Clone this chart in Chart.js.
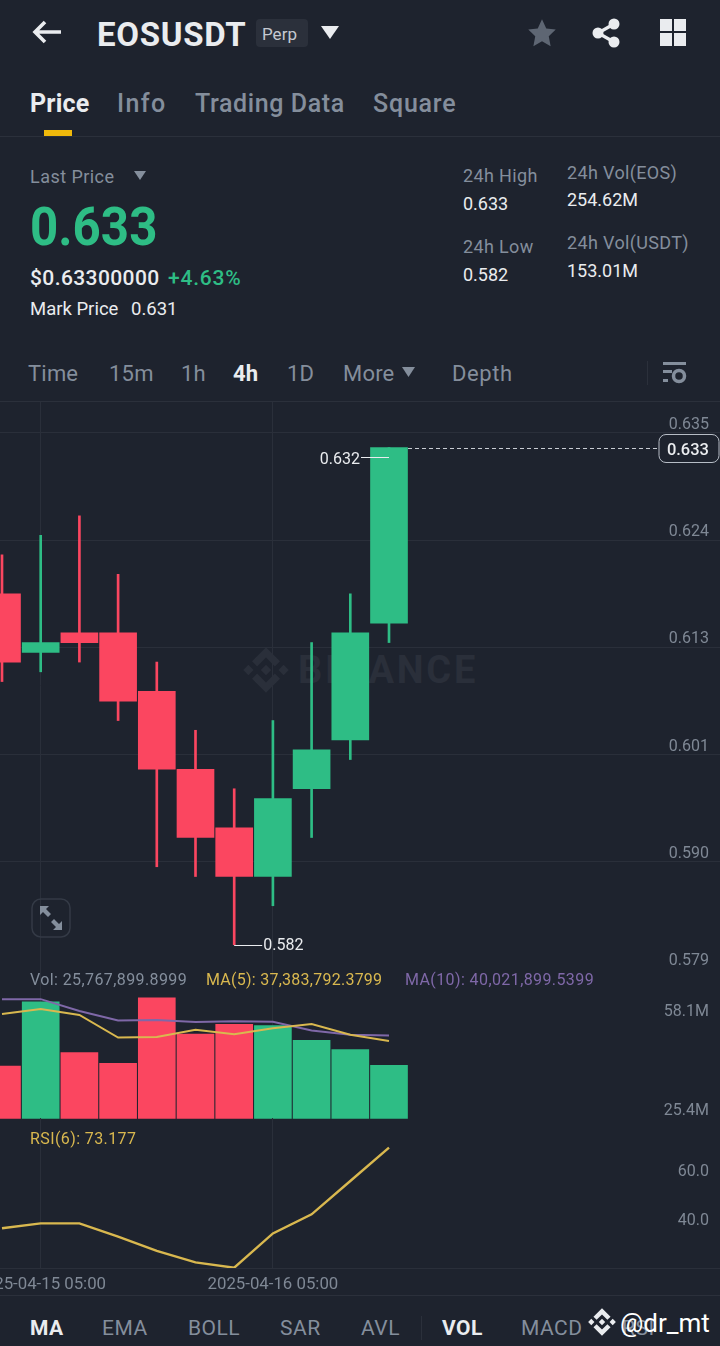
<!DOCTYPE html>
<html>
<head>
<meta charset="utf-8">
<title>EOSUSDT</title>
<script src="https://cdn.jsdelivr.net/npm/chart.js@4/dist/chart.umd.min.js"></script>
<style>
  html, body { margin: 0; padding: 0; background: #1e232e; }
  #app { position: relative; width: 720px; height: 1346px; overflow: hidden; background: #1e232e;
         font-family: Roboto, sans-serif; color: #848e9c; }
  .t { position: absolute; white-space: nowrap; transform: translateY(-50%); line-height: 1; }
  .w { color: #eaecef; }
  .b { font-weight: 700; }
  .hr { position: absolute; left: 0; width: 720px; height: 1px; background: #2b303b; }
  .tab { font-size: 25px; font-weight: 500; letter-spacing: .6px; }
  .iv { font-size: 22px; letter-spacing: .2px; }
  .ind { font-size: 21px; letter-spacing: .5px; }
  .stat { font-size: 18px; }
  .lab { font-size: 18px; letter-spacing: .35px; }
  .leg { font-size: 16px; letter-spacing: .4px; }
  canvas { position: absolute; left: 0; display: block; }
  svg { position: absolute; }
</style>
</head>
<body>
<div id="app">
  <!-- top bar -->
  <svg style="left:32px;top:20px" width="30" height="24" viewBox="0 0 30 24"><path d="M13 2 3 12l10 10M3 12h26" fill="none" stroke="#eaecef" stroke-width="3.6"/></svg>
  <span class="t w b" style="left:97px;top:34px;font-size:33px;letter-spacing:.7px">EOSUSDT</span>
  <div style="position:absolute;left:256px;top:19px;width:52px;height:28px;background:#2b303b;border-radius:4px"></div>
  <span class="t" style="left:262px;top:34px;font-size:17px;color:#c4c9d1">Perp</span>
  <svg style="left:321px;top:26px" width="18" height="13"><path d="M0 0h18L9 13z" fill="#eaecef"/></svg>
  <svg style="left:527px;top:18px" width="30" height="30" viewBox="0 0 24 24"><path d="M12 1l3.4 7.3 7.6.9-5.6 5.4 1.5 8L12 18.6 5.1 22.600l1.500-8L1 9.200l7.600-.9z" fill="#5e6673"/></svg>
  <svg style="left:592px;top:18px" width="28" height="30" viewBox="0 0 28 30"><path d="M22 6 6 15l16 9" fill="none" stroke="#eaecef" stroke-width="3.200"/><circle cx="22" cy="6" r="5.500" fill="#eaecef"/><circle cx="6" cy="15" r="5.500" fill="#eaecef"/><circle cx="22" cy="24" r="5.500" fill="#eaecef"/></svg>
  <svg style="left:660px;top:19px" width="26" height="27"><path d="M0 0h12v12H0zM14 0h12v12H14zM0 14h12v13H0zM14 14h12v13H14z" fill="#eaecef"/></svg>

  <!-- tabs -->
  <span class="t w tab" style="left:30px;top:103px;font-weight:700;letter-spacing:.2px">Price</span>
  <span class="t tab" style="left:117px;top:103px;letter-spacing:1.4px">Info</span>
  <span class="t tab" style="left:195px;top:103px">Trading Data</span>
  <span class="t tab" style="left:373px;top:103px;letter-spacing:.8px">Square</span>
  <div style="position:absolute;left:44px;top:130px;width:28px;height:6px;background:#f0b90b"></div>
  <div class="hr" style="top:136px"></div>

  <!-- ticker -->
  <span class="t lab" style="left:30px;top:177px;letter-spacing:.45px">Last Price</span>
  <svg style="left:134px;top:171px" width="12" height="9"><path d="M0 0h12L6 9z" fill="#848e9c"/></svg>
  <span class="t b" style="left:30px;top:227px;font-size:53px;color:#2ebd85;transform:translateY(-50%) scaleX(.93);transform-origin:left center">0.633</span>
  <span class="t w" style="left:30px;top:278px;font-size:21px;font-weight:500;letter-spacing:.4px">$0.63300000</span>
  <span class="t" style="left:168px;top:278px;font-size:21px;font-weight:500;color:#2ebd85;letter-spacing:.8px">+4.63%</span>
  <span class="t w" style="left:30px;top:309px;font-size:18.5px">Mark Price</span>
  <span class="t w" style="left:131px;top:309px;font-size:18.5px">0.631</span>

  <span class="t lab" style="left:463px;top:176px">24h High</span>
  <span class="t w stat" style="left:463px;top:204px">0.633</span>
  <span class="t lab" style="left:463px;top:247px">24h Low</span>
  <span class="t w stat" style="left:463px;top:275px">0.582</span>
  <span class="t lab" style="left:567px;top:173px">24h Vol(EOS)</span>
  <span class="t w stat" style="left:567px;top:200px">254.62M</span>
  <span class="t lab" style="left:567px;top:243px">24h Vol(USDT)</span>
  <span class="t w stat" style="left:567px;top:271px">153.01M</span>

  <!-- intervals -->
  <span class="t iv" style="left:28px;top:374px">Time</span>
  <span class="t iv" style="left:109px;top:374px">15m</span>
  <span class="t iv" style="left:181px;top:374px">1h</span>
  <span class="t iv w b" style="left:233px;top:374px">4h</span>
  <span class="t iv" style="left:287px;top:374px">1D</span>
  <span class="t iv" style="left:343px;top:374px">More</span>
  <svg style="left:402px;top:367px" width="13" height="10"><path d="M0 0h13L6.500 10z" fill="#848e9c"/></svg>
  <span class="t iv" style="left:452px;top:374px;letter-spacing:.6px">Depth</span>
  <div style="position:absolute;left:647px;top:361px;width:1px;height:24px;background:#2b303b"></div>
  <svg style="left:663px;top:361px" width="24" height="24"><path d="M0 1h23v3H0zM0 9h9v3H0zM0 18h5v3H0z" fill="#848e9c"/><circle cx="16" cy="15" r="5.500" fill="none" stroke="#848e9c" stroke-width="3.500"/></svg>
  <div class="hr" style="top:401px"></div>

  <!-- watermark sits under the candles -->
  <svg style="left:243px;top:647px" width="46" height="46" viewBox="0 0 126 126"><path fill="#2a2f3a" d="M38.730 53.200 63 28.930l24.280 24.280 14.120-14.120L63 .68 24.610 39.070zM.68 63l14.120-14.120L28.930 63 14.800 77.120zM38.730 72.800 63 97.070l24.280-24.280 14.130 14.100L63 125.320 24.610 86.930zM97.070 63l14.120-14.120L125.320 63l-14.120 14.120zM77.330 63 63 48.650 48.660 63 63 77.350z"/></svg>
  <span class="t b" style="left:298px;top:670px;font-size:38px;color:#2a2f3a;letter-spacing:2.700px">BINANCE</span>

  <canvas id="priceChart" width="720" height="567" style="top:402px"></canvas>
  <canvas id="volChart" width="720" height="151" style="top:968px"></canvas>
  <canvas id="rsiChart" width="720" height="178" style="top:1118px"></canvas>

  <span class="t leg" style="left:30px;top:980px">Vol: 25,767,899.8999</span>
  <span class="t leg" style="left:206px;top:980px;color:#d9b84f;letter-spacing:.25px">MA(5): 37,383,792.3799</span>
  <span class="t leg" style="left:405px;top:980px;color:#7f68a8">MA(10): 40,021,899.5399</span>
  <span class="t leg" style="left:30px;top:1139px;color:#d9b84f">RSI(6): 73.177</span>

  <svg style="left:31px;top:898px" width="40" height="40"><rect x="1" y="1" width="38" height="38" rx="9" fill="none" stroke="#343a46" stroke-width="1.500"/><path d="M9 8h9l-3 3 5 5-3 3-5-5-3 3zM31 32h-9l3-3-5-5 3-3 5 5 3-3z" fill="#848e9c"/></svg>

  <!-- bottom bar -->
  <div class="hr" style="top:1295px"></div>
  <span class="t ind w b" style="left:30px;top:1328px">MA</span>
  <span class="t ind" style="left:102px;top:1328px">EMA</span>
  <span class="t ind" style="left:188px;top:1328px">BOLL</span>
  <span class="t ind" style="left:280px;top:1328px">SAR</span>
  <span class="t ind" style="left:361px;top:1328px">AVL</span>
  <div style="position:absolute;left:421px;top:1316px;width:1px;height:24px;background:#2b303b"></div>
  <span class="t ind w b" style="left:442px;top:1328px">VOL</span>
  <span class="t ind" style="left:521px;top:1328px">MACD</span>
  <span class="t ind" style="left:622px;top:1328px">RSI</span>
  <svg style="left:588px;top:1307px" width="28" height="30" viewBox="0 0 126 126"><path fill="#eaecef" d="M38.730 53.200 63 28.930l24.280 24.280 14.120-14.120L63 .68 24.610 39.070zM.68 63l14.120-14.120L28.930 63 14.800 77.120zM38.730 72.800 63 97.070l24.280-24.280 14.130 14.100L63 125.320 24.610 86.930zM97.070 63l14.120-14.120L125.320 63l-14.120 14.120zM77.330 63 63 48.650 48.660 63 63 77.350z"/></svg>
  <span class="t" style="left:620px;top:1323px;font-size:26px;color:#fff">@dr_mt</span>
</div>

<script>
// 4h candles, index 0 is the one cut off by the left edge
const times = ["2025-04-15 01:00", "2025-04-15 05:00", "2025-04-15 09:00", "2025-04-15 13:00",
    "2025-04-15 17:00", "2025-04-15 21:00", "2025-04-16 01:00", "2025-04-16 05:00",
    "2025-04-16 09:00", "2025-04-16 13:00", "2025-04-16 17:00"];
const opens  = [0.618, 0.612, 0.614, 0.614, 0.608, 0.600, 0.594, 0.589, 0.598, 0.603, 0.615];
const closes = [0.611, 0.613, 0.613, 0.607, 0.600, 0.593, 0.589, 0.597, 0.602, 0.614, 0.633];
const highs  = [0.622, 0.624, 0.626, 0.620, 0.611, 0.604, 0.598, 0.605, 0.613, 0.618, 0.633];
const lows   = [0.609, 0.610, 0.611, 0.605, 0.590, 0.589, 0.582, 0.586, 0.593, 0.601, 0.613];

const volumes = [25.4, 56.2, 31.9, 26.7, 58.1, 40.7, 45.4, 44.8, 37.7, 33.3, 25.77];
const ma5     = [50.4, 52.8, 49.9, 39.1, 39.4, 42.8, 40.7, 43.5, 45.6, 40.4, 37.38];
const ma10    = [57.5, 57.5, 51.8, 47.3, 47.5, 46.5, 46.9, 46.7, 42.5, 40.4, 40.02];
const rsi6    = [40.3, 42.3, 42.3, 36.9, 31.1, 26.4, 24.2, 38.2, 46.0, 59.6, 73.177];

const priceTicks = [0.6345, 0.6235, 0.6125, 0.6015, 0.5905, 0.5795];
const priceTickLabels = ["0.635", "0.624", "0.613", "0.601", "0.590", "0.579"];
const volTicks = [47.3, 0];
const volTickLabels = ["58.1M", "25.4M"];
const rsiTicks = [60, 40, 24.08];
const rsiTickLabels = ["60.0", "40.0", ""];
const dateTickIndexes = [1, 7];

const GREEN = "#2ebd85";
const RED = "#fb4660";
const GRID = "#2a2f3a";
const TICK = "#7f8895";
const CANDLE_STEP = 38.7;
const FIRST_CANDLE_X = 2;

const indexes = times.map((t, i) => i);
const candleColors = indexes.map(i => closes[i] >= opens[i] ? GREEN : RED);

// Same horizontal scale on all three panels, area fills the canvas
function xAxis(showLabels) {
    return {
        type: "linear",
        offset: false,
        min: -FIRST_CANDLE_X / CANDLE_STEP,
        max: (720 - FIRST_CANDLE_X) / CANDLE_STEP,
        afterBuildTicks: scale => { scale.ticks = dateTickIndexes.map(v => ({ value: v })); },
        afterFit: scale => {
            scale.paddingLeft = scale.paddingRight = 0;
            scale.height = showLabels ? 28 : 0;
        },
        border: { display: false },
        grid: { color: GRID, drawTicks: false, offset: false },
        ticks: {
            display: showLabels,
            autoSkip: false,
            maxRotation: 0,
            padding: 7,
            color: TICK,
            font: { family: "Roboto", size: 16.8 },
            callback: value => times[value],
        },
    };
}

function yAxis(min, max, ticks, labels, gridColor) {
    return {
        position: "right",
        min: min,
        max: max,
        beginAtZero: false,
        afterBuildTicks: scale => { scale.ticks = ticks.map(v => ({ value: v })); },
        afterFit: scale => {
            scale.paddingTop = scale.paddingBottom = 0;
            scale.width = 0;
        },
        border: { display: false },
        grid: { color: gridColor, drawTicks: false },
        ticks: {
            mirror: true,
            autoSkip: false,
            padding: -11,
            labelOffset: -8,
            color: TICK,
            font: { family: "Roboto", size: 16 },
            callback: (value, i) => labels[i],
        },
    };
}

const baseOptions = {
    responsive: false,
    animation: false,
    layout: { padding: 0 },
    plugins: { legend: { display: false }, tooltip: { enabled: false } },
};

// High / low callouts and the last price line
const priceMarks = {
    id: "priceMarks",
    afterDatasetsDraw(chart) {
        const { ctx, scales: { x, y } } = chart;
        const last = indexes.length - 1;
        const lastY = Math.round(y.getPixelForValue(closes[last])) + 0.5;
        const boxLeft = 659;

        ctx.save();
        ctx.textBaseline = "middle";
        ctx.lineWidth = 1;

        ctx.strokeStyle = "#c8ccd3";
        ctx.setLineDash([4, 3]);
        ctx.beginPath();
        ctx.moveTo(x.getPixelForValue(last) + 19, lastY);
        ctx.lineTo(boxLeft, lastY);
        ctx.stroke();
        ctx.setLineDash([]);

        ctx.fillStyle = "#1e232e";
        ctx.strokeStyle = "#b7bdc6";
        ctx.beginPath();
        ctx.roundRect(boxLeft, lastY - 14, 60, 28, 7);
        ctx.fill();
        ctx.stroke();
        ctx.font = "500 16.5px Roboto";
        ctx.fillStyle = "#eaecef";
        ctx.textAlign = "right";
        ctx.fillText(closes[last].toFixed(3), 709, lastY + 2);

        // 0.632 points left from the last candle
        ctx.font = "16px Roboto";
        const hiY = Math.round(y.getPixelForValue(0.632)) + 0.5;
        const hiX = x.getPixelForValue(last);
        ctx.strokeStyle = "#eaecef";
        ctx.beginPath();
        ctx.moveTo(hiX - 28, hiY);
        ctx.lineTo(hiX, hiY);
        ctx.stroke();
        ctx.fillText("0.632", hiX - 29, hiY + 2);

        // lowest low points right
        const lowValue = Math.min(...lows);
        const lowIndex = lows.indexOf(lowValue);
        const loY = Math.round(y.getPixelForValue(lowValue)) + 0.5;
        const loX = x.getPixelForValue(lowIndex);
        ctx.beginPath();
        ctx.moveTo(loX, loY);
        ctx.lineTo(loX + 28, loY);
        ctx.stroke();
        ctx.textAlign = "left";
        ctx.fillText(lowValue.toFixed(3), loX + 29, loY);
        ctx.restore();
    },
};

new Chart("priceChart", {
    type: "bar",
    data: {
        datasets: [
            {
                label: "Wick",
                data: indexes.map(i => ({ x: i, y: [lows[i], highs[i]] })),
                backgroundColor: candleColors,
                barThickness: 2,
                grouped: false,
                order: 2,
            },
            {
                label: "Body",
                data: indexes.map(i => ({ x: i, y: [opens[i], closes[i]] })),
                backgroundColor: candleColors,
                barThickness: 37,
                grouped: false,
                order: 1,
            },
        ],
    },
    options: {
        ...baseOptions,
        scales: {
            x: xAxis(false),
            y: yAxis(0.57951, 0.63768, priceTicks, priceTickLabels, GRID),
        },
    },
    plugins: [priceMarks],
});

new Chart("volChart", {
    type: "bar",
    data: {
        datasets: [
            {
                label: "Vol",
                data: indexes.map(i => ({ x: i, y: volumes[i] })),
                backgroundColor: candleColors,
                barThickness: 37,
                order: 3,
            },
            {
                type: "line",
                label: "MA(10)",
                data: indexes.map(i => ({ x: i, y: ma10[i] })),
                borderColor: "#7f68a8",
                borderWidth: 2,
                pointRadius: 0,
                order: 2,
            },
            {
                type: "line",
                label: "MA(5)",
                data: indexes.map(i => ({ x: i, y: ma5[i] })),
                borderColor: "#d9b84f",
                borderWidth: 2,
                pointRadius: 0,
                order: 1,
            },
        ],
    },
    options: {
        ...baseOptions,
        scales: {
            x: xAxis(false),
            y: yAxis(0, 72.45, volTicks, volTickLabels, c => c.tick.value === 0 ? GRID : "transparent"),
        },
    },
});

new Chart("rsiChart", {
    type: "line",
    data: {
        datasets: [{
            label: "RSI(6)",
            data: indexes.map(i => ({ x: i, y: rsi6[i] })),
            borderColor: "#d9b84f",
            borderWidth: 2.4,
            pointRadius: 0,
        }],
    },
    options: {
        ...baseOptions,
        scales: {
            x: xAxis(true),
            y: yAxis(24.08, 85.3, rsiTicks, rsiTickLabels, c => c.tick.value < 30 ? GRID : "transparent"),
        },
    },
});
</script>
</body>
</html>
